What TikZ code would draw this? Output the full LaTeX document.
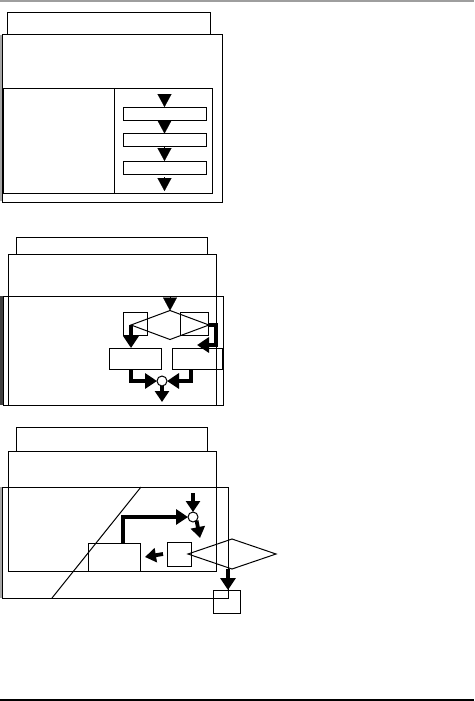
\documentclass[tikz,border=0pt]{standalone}
\usepackage{tikz}
\usetikzlibrary{arrows.meta,shapes.geometric}
\tikzset{
	frame/.style={draw, line width=1pt, inner sep=0pt, outer sep=0pt},
	dia/.style={draw, diamond, line width=1pt, inner sep=0pt, outer sep=0pt},
	junction/.style={draw, circle, line width=1pt, minimum size=10pt, inner sep=0pt, outer sep=0pt},
	headtip/.style={-{Triangle[length=13pt,width=14pt]}, line width=0.1pt},
	fat/.style={-{Triangle[length=12pt,width=15pt]}, line width=3.8pt},
	fatend/.style={-{Triangle[length=11pt,width=14pt]}, line width=3.8pt},
}

\begin{document}
\begin{tikzpicture}[x=1pt,y=-1pt]
			%%%%% START %%%%%
			\useasboundingbox (0,0) rectangle (474,701);
			
			\draw[line width=2pt, color=black!38] (0,1) -- (474,1);
			\fill (0,698.6) rectangle (474,701);
			
			% first panel
			\draw[line width=1.6pt, color=black!35] (0.8,35) -- (0.8,201);
			\node[frame, minimum width=203pt, minimum height=22pt] (tab1) at (108.5,24) {};
			\node[frame, minimum width=220pt, minimum height=167pt] (frame1) at (112,118.5) {};
			\node[frame, minimum width=209pt, minimum height=105pt] (inner1) at (107.5,140.5) {};
			\draw[line width=1pt] (114,0 |- inner1.north) -- (114,0 |- inner1.south);
			
			\node[frame, minimum width=83pt, minimum height=13pt] (s1) at (164.5,113.5) {};
			\node[frame, minimum width=83pt, minimum height=13pt] (s2) at (164.5,140) {};
			\node[frame, minimum width=83pt, minimum height=13pt] (s3) at (164.5,167.5) {};
			\coordinate (t0) at (164.5,96);
			\coordinate (t3) at (164.5,177);
			\coordinate (t4) at (164.5,191);
			
			\draw[headtip] (t0) -- (s1.north);
			\draw[headtip] (s1.south) -- (s2.north);
			\draw[headtip] (s2.south) -- (s3.north);
			\draw[headtip] (t3) -- (t4);
			
			% second panel
			\node[frame, minimum width=191pt, minimum height=17pt] (tab2) at (111.5,245.5) {};
			\node[frame, minimum width=208pt, minimum height=151pt] (frame2a) at (112,329.5) {};
			\node[frame, minimum width=220pt, minimum height=109pt] (frame2b) at (113,350.5) {};
			\draw[line width=3pt, color=black!75] (1.5,296) -- (1.5,405);
			
			\node[frame, minimum width=24pt, minimum height=23pt] (lbox2) at (135,323.5) {};
			\node[frame, minimum width=28pt, minimum height=23pt] (rbox2) at (194,323.5) {};
			\node[dia, minimum width=78pt, minimum height=29pt] (d2) at (170,325) {};
			\node[frame, minimum width=52pt, minimum height=21pt] (llow2) at (135,358.5) {};
			\node[frame, minimum width=50pt, minimum height=21pt] (rlow2) at (197,358.5) {};
			\node[junction] (join2) at (162,381) {};
			\coordinate (in2) at (170,297);
			\coordinate (out2) at (162,402);
			
			\draw[headtip] (in2) -- (d2.north);
			\draw[fat] (d2.west) -- (d2.west |- llow2.north);
			\draw[fat] (d2.east) -- ++(7,0) |- ([yshift=3pt]rlow2.north);
			\draw[fat] ([xshift=-4pt]llow2.south) |- (join2.west);
			\draw[fat] ([xshift=-6pt]rlow2.south) |- (join2.east);
			\draw[fatend] (join2.south) -- (out2);
			
			% third panel
			\node[frame, minimum width=191pt, minimum height=24pt] (tab3) at (111.5,439) {};
			\node[frame, minimum width=208pt, minimum height=120pt] (frame3a) at (112,511) {};
			\node[frame, minimum width=226pt, minimum height=111pt] (frame3b) at (115,542.5) {};
			\draw[line width=1.6pt, color=black!35] (0.8,487) -- (0.8,598);
			\draw[line width=1pt] (141,487) -- (52,598);
			
			\node[junction] (join3) at (193,517) {};
			\node[frame, minimum width=52pt, minimum height=28pt] (lbox3) at (114,557) {};
			\node[frame, minimum width=24pt, minimum height=24pt] (sbox3) at (179,554) {};
			\node[dia, minimum width=88pt, minimum height=30pt] (d3) at (232,554) {};
			\node[frame, minimum width=27pt, minimum height=23pt] (bbox3) at (226.5,601.5) {};
			\coordinate (in3) at (193,493);
			\coordinate (out3) at (200,538);
			
			\draw[fatend] (in3) -- (join3.north);
			\draw[fatend] (join3.south east) -- (out3);
			\draw[fat] ([xshift=9pt]lbox3.north) |- (join3.west);
			\draw[fatend] ([xshift=-4pt]sbox3.west) -- ([xshift=5pt]lbox3.east);
			\draw[fat] ([xshift=-4pt]d3.south) -- ([xshift=-4pt]d3.south |- bbox3.north);
			
			%%%%% END %%%%%
\end{tikzpicture}
\end{document}
